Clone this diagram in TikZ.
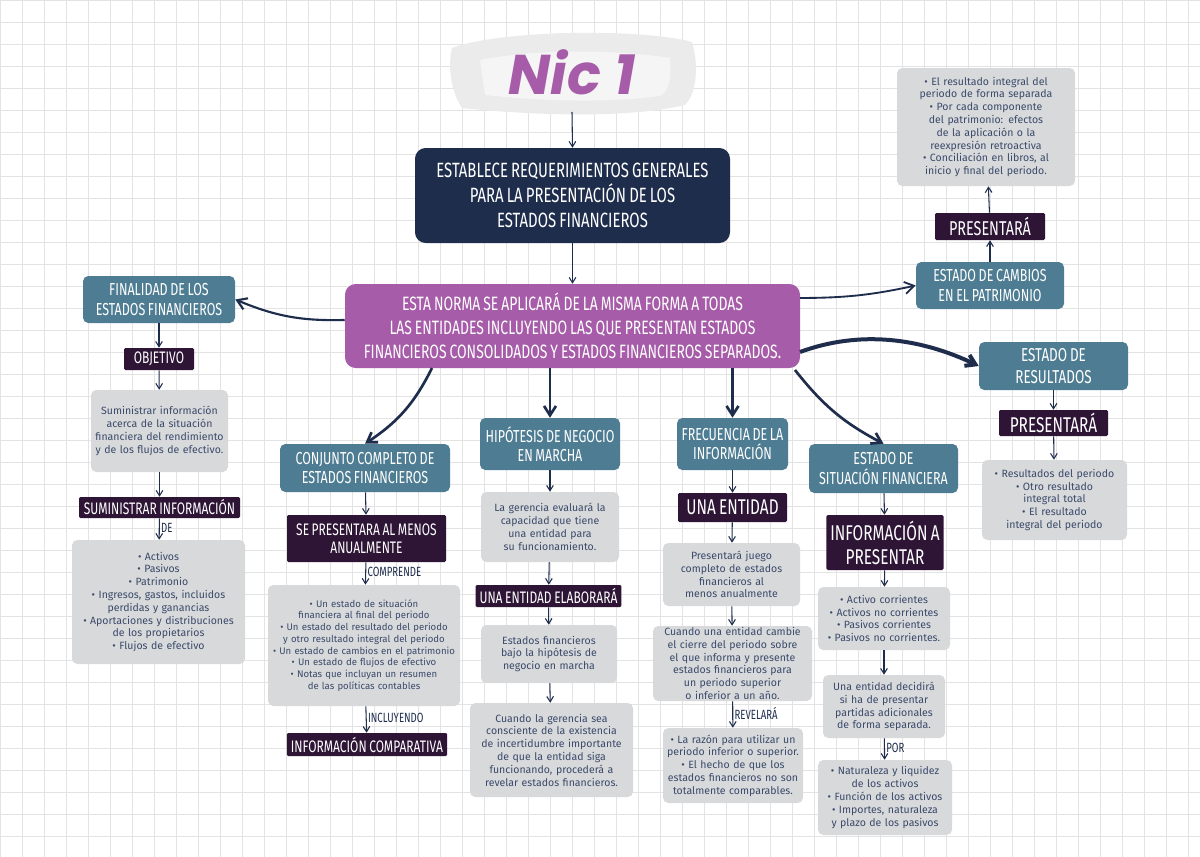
\documentclass[tikz,border=0pt]{standalone}
\usepackage{fontspec}
\setmainfont{Fira Sans}
\newfontfamily\hand[FakeStretch=0.72,WordSpace=0.8]{Fira Sans}
\newfontfamily\titlef{Poppins}
\usetikzlibrary{arrows.meta}
\definecolor{navy}{HTML}{1F2D4D}
\definecolor{pinkc}{HTML}{A65CA8}
\definecolor{teal}{HTML}{4E7D93}
\definecolor{dpur}{HTML}{2E1536}
\definecolor{greyb}{HTML}{D8D9DB}
\definecolor{txt}{HTML}{3A4A6A}
\tikzset{
 base/.style={rounded corners=4pt,align=center,inner xsep=3pt,inner ysep=1pt,execute at begin node={\hyphenpenalty=10000\exhyphenpenalty=10000}},
 grey/.style={base,fill=greyb,text=txt,font=\fontsize{7.9}{9.6}\selectfont},
 tealb/.style={base,fill=teal,text=white,font=\hand\fontsize{13}{14.5}\selectfont},
 dark/.style={base,rounded corners=1pt,fill=dpur,text=white,font=\hand\fontsize{12.5}{13.5}\selectfont},
 big/.style={base,rounded corners=8pt,text=white,font=\hand\fontsize{15.5}{18.5}\selectfont},
 lbl/.style={text=navy,font=\hand\fontsize{10}{11}\selectfont,inner sep=1pt},
 arr/.style={navy,line width=0.8pt,-{Straight Barb[length=4pt,width=5pt]}},
 barr/.style={navy,line width=2pt,-{Straight Barb[length=7pt,width=9pt]}},
}
\newcommand\bx[7]{\node[#6,minimum width={(#4-#2)*0.75pt},minimum height={(#5-#3)*0.75pt},text width={(#4-#2)*0.75pt-6pt}] (#1) at ({(#2+#4)/2},{(#3+#5)/2}) {#7};}
\newcommand\hb[7]{\node[#6,minimum width={(#4-#2)*0.75pt},minimum height={(#5-#3)*0.75pt}] (#1) at ({(#2+#4)/2},{(#3+#5)/2}) {#7};}
\begin{document}
\begin{tikzpicture}[x=0.75pt,y=-0.75pt]
\useasboundingbox (0,0) rectangle (1200,857);
\fill[white] (0,0) rectangle (1200,857);
\foreach \i in {0,22,...,1200} \draw[gray!22,line width=0.5pt] (\i,0) -- (\i,857);
\foreach \i in {0,22,...,857} \draw[gray!22,line width=0.5pt] (0,\i) -- (1200,\i);
% title
\fill[gray!16] (452,48) .. controls (500,30) and (640,28) .. (692,42) .. controls (700,70) and (695,95) .. (685,105) .. controls (620,120) and (520,114) .. (462,108) .. controls (450,90) and (448,65) .. (452,48) -- cycle;
\fill[gray!8] (480,60) .. controls (540,48) and (620,50) .. (670,58) .. controls (672,80) and (668,92) .. (660,96) .. controls (600,104) and (530,100) .. (485,95) -- cycle;
\node[text=pinkc,font=\titlef\bfseries\itshape\fontsize{42}{42}\selectfont] (title) at (572,72) {Nic 1};
\hb{a}{415}{148}{730}{243}{big,fill=navy}{ESTABLECE REQUERIMIENTOS GENERALES\\PARA LA PRESENTACIÓN DE LOS\\ESTADOS FINANCIEROS}
\hb{b}{345}{284}{800}{368}{big,fill=pinkc,font=\hand\fontsize{14.5}{18}\selectfont}{ESTA NORMA SE APLICARÁ DE LA MISMA FORMA A TODAS\\LAS ENTIDADES INCLUYENDO LAS QUE PRESENTAN ESTADOS\\FINANCIEROS CONSOLIDADOS Y ESTADOS FINANCIEROS SEPARADOS.}
\coordinate (t0) at (572,112);
\draw[arr] (t0) -- (a.north);
\draw[arr] (a.south) -- (b.north);
% left column
\hb{f}{83}{276}{235}{323}{tealb}{FINALIDAD DE LOS\\ESTADOS FINANCIEROS}
\hb{obj}{124}{348}{194}{370}{dark}{OBJETIVO}
\bx{g1}{91}{390}{228}{472}{grey}{Suministrar información acerca de la situación financiera del rendimiento y de los flujos de efectivo.}
\hb{sum}{79}{497}{240}{518}{dark}{SUMINISTRAR INFORMACIÓN}
\bx{g2}{72}{540}{245}{664}{grey}{• Activos\\• Pasivos\\• Patrimonio\\• Ingresos, gastos, incluidos perdidas y ganancias\\• Aportaciones y distribuciones de los propietarios\\• Flujos de efectivo}
\draw[barr,line width=1.6pt] (b.west) ++(0,-6) to[bend left=12] (f.east);
\draw[arr] (f) -- (obj);
\draw[arr] (obj) -- (g1);
\draw[arr] (g1) -- (sum);
\draw[arr] (sum) -- (g2) node[lbl,pos=0.45,right] {DE};
% conjunto
\hb{c}{280}{444}{450}{492}{tealb}{CONJUNTO COMPLETO DE\\ESTADOS FINANCIEROS}
\hb{c1}{287}{515}{446}{562}{dark}{SE PRESENTARA AL MENOS\\ANUALMENTE}
\bx{c2}{268}{585}{460}{706}{grey,font=\fontsize{7.2}{8.8}\selectfont}{• Un estado de situación financiera al final del periodo\\• Un estado del resultado del periodo y otro resultado integral del periodo\\• Un estado de cambios en el patrimonio\\• Un estado de flujos de efectivo\\• Notas que incluyan un resumen de las políticas contables}
\hb{c3}{288}{733}{446}{756}{dark}{INFORMACIÓN COMPARATIVA}
\coordinate (bc) at (432,368);
\draw[barr] (bc) to[bend left=15] (c.north);
\draw[arr] (c) -- (c1);
\draw[arr] (c1) -- (c2) node[lbl,pos=0.45,right] {COMPRENDE};
\draw[arr] (c2) -- (c3) node[lbl,pos=0.45,right] {INCLUYENDO};
% hipotesis
\hb{h}{480}{418}{620}{470}{tealb}{HIPÓTESIS DE NEGOCIO\\EN MARCHA}
\bx{h1}{481}{492}{619}{562}{grey}{La gerencia evaluará la capacidad que tiene una entidad para su funcionamiento.}
\hb{h2}{480}{585}{617}{607}{dark}{UNA ENTIDAD ELABORARÁ}
\bx{h3}{481}{625}{617}{683}{grey}{Estados financieros bajo la hipótesis de negocio en marcha}
\bx{h4}{470}{703}{633}{797}{grey}{Cuando la gerencia sea consciente de la existencia de incertidumbre importante de que la entidad siga funcionando, procederá a revelar estados financieros.}
\draw[barr] (b.south-|h.north) -- (h.north);
\draw[arr] (h) -- (h1); \draw[arr] (h1) -- (h2); \draw[arr] (h2) -- (h3); \draw[arr] (h3) -- (h4);
% frecuencia
\hb{q}{677}{418}{788}{470}{tealb}{FRECUENCIA DE LA\\INFORMACIÓN}
\hb{q1}{678}{493}{787}{522}{dark,font=\hand\fontsize{16}{17}\selectfont}{UNA ENTIDAD}
\bx{q2}{663}{543}{800}{606}{grey}{Presentará juego completo de estados financieros al menos anualmente}
\bx{q3}{653}{627}{812}{700}{grey}{Cuando una entidad cambie el cierre del periodo sobre el que informa y presente estados financieros para un periodo superior o inferior a un año.}
\bx{q4}{663}{728}{803}{803}{grey}{• La razón para utilizar un periodo inferior o superior.\\• El hecho de que los estados financieros no son totalmente comparables.}
\draw[barr] (b.south-|q.north) -- (q.north);
\draw[arr] (q) -- (q1); \draw[arr] (q1) -- (q2); \draw[arr] (q2) -- (q3);
\draw[arr] (q3) -- (q4) node[lbl,pos=0.45,right] {REVELARÁ};
% situacion
\hb{s}{809}{444}{958}{493}{tealb}{ESTADO DE\\SITUACIÓN FINANCIERA}
\hb{s1}{829}{515}{941}{570}{dark,font=\hand\fontsize{16}{18}\selectfont}{INFORMACIÓN A\\PRESENTAR}
\bx{s2}{818}{587}{950}{650}{grey}{• Activo corrientes\\• Activos no corrientes\\• Pasivos corrientes\\• Pasivos no corrientes.}
\bx{s3}{823}{675}{945}{738}{grey}{Una entidad decidirá si ha de presentar partidas adicionales de forma separada.}
\bx{s4}{818}{760}{952}{835}{grey}{• Naturaleza y liquidez de los activos\\• Función de los activos\\• Importes, naturaleza y plazo de los pasivos}
\coordinate (bs) at (795,370);
\draw[barr] (bs) to[bend right=12] (s.north);
\draw[arr] (s) -- (s1); \draw[arr] (s1) -- (s2); \draw[arr] (s2) -- (s3);
\draw[arr] (s3) -- (s4) node[lbl,pos=0.45,right] {POR};
% patrimonio
\hb{p}{916}{262}{1064}{309}{tealb}{ESTADO DE CAMBIOS\\EN EL PATRIMONIO}
\hb{p1}{935}{213}{1045}{240}{dark,font=\hand\fontsize{15}{16}\selectfont}{PRESENTARÁ}
\bx{p2}{897}{68}{1075}{186}{grey}{• El resultado integral del periodo de forma separada\\• Por cada componente del patrimonio: efectos de la aplicación o la reexpresión retroactiva\\• Conciliación en libros, al inicio y final del periodo.}
\coordinate (bp) at (800,298);
\draw[barr,line width=1.4pt] (bp) to[bend right=6] (p.west);
\draw[arr] (p) -- (p1); \draw[arr] (p1) -- (p2);
% resultados
\hb{r}{979}{342}{1128}{390}{tealb,font=\hand\fontsize{14}{16}\selectfont}{ESTADO DE\\RESULTADOS}
\hb{r1}{999}{410}{1108}{436}{dark,font=\hand\fontsize{16}{17}\selectfont}{PRESENTARÁ}
\bx{r2}{982}{460}{1127}{540}{grey}{• Resultados del periodo\\• Otro resultado integral total\\• El resultado integral del periodo}
\coordinate (br) at (800,352);
\draw[barr,line width=3pt] (br) .. controls (860,330) and (920,338) .. (r.west);
\draw[arr] (r) -- (r1); \draw[arr] (r1) -- (r2);
\end{tikzpicture}
\end{document}
